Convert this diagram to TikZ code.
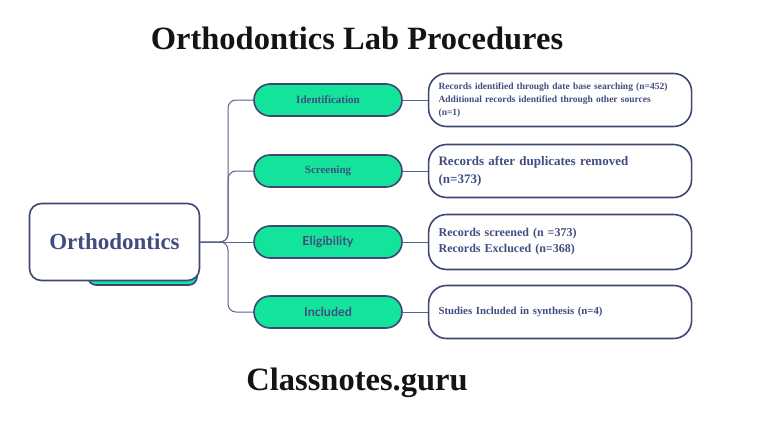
\documentclass[tikz,border=0pt]{standalone}
\usepackage{fontspec}
\setmainfont{Liberation Serif}
\newfontfamily\lato{Lato}
\usetikzlibrary{positioning}
\definecolor{navy}{RGB}{60,71,120}
\definecolor{mint}{RGB}{20,228,155}
\definecolor{inkblue}{RGB}{66,76,128}

\begin{document}
\begin{tikzpicture}[x=1pt, y=-1pt,
  root/.style={draw=navy, fill=white, line width=1.6pt, rounded corners=12pt,
               minimum width=170pt, minimum height=77pt, text=inkblue,
               font=\fontsize{23}{27}\selectfont\bfseries},
  backing/.style={draw=navy, fill=mint, line width=1.6pt, rounded corners=8pt,
                  minimum width=109pt, minimum height=30pt},
  stage/.style={draw=navy, fill=mint, line width=1.6pt, rounded corners=16pt,
                minimum width=148pt, minimum height=32pt, text=inkblue,
                font=\fontsize{11}{13}\selectfont\bfseries},
  sans/.style={font=\lato\fontsize{12.5}{14}\selectfont\bfseries},
  detail/.style={draw=navy, fill=white, line width=1.6pt, rounded corners=18pt,
                 minimum width=263pt, minimum height=53pt, inner xsep=10pt,
                 text width=243pt, align=left, text=inkblue},
  small/.style={font=\fontsize{9.5}{13}\selectfont\bfseries},
  large/.style={font=\fontsize{13}{18}\selectfont\bfseries},
  conn/.style={draw=navy!85, line width=1pt},
  heading/.style={font=\fontsize{32.5}{38}\selectfont\bfseries, text=black!92},
]

\useasboundingbox (0,0) rectangle (768,434);

% --- Title ---
\node[heading] (title) at (357,38) {Orthodontics Lab Procedures};

% --- Root ---
\node[backing] (back) at (142.5,270) {};
\node[root] (ortho) at (114.5,242) {Orthodontics};

% --- Stages ---
\node[stage] (s1) at (328,100) {Identification};
\node[stage, below=37.4pt of s1] (s2) {Screening};
\node[stage, below=37.4pt of s2, sans] (s3) {Eligibility};
\node[stage, below=36.4pt of s3, sans] (s4) {Included};

% --- Details ---
\node[detail, small, right=25pt of s1] (d1)
  {Records identified through date base searching (n=452)\\
   Additional records identified through other sources\\
   (n=1)};
\node[detail, large, right=25pt of s2] (d2)
  {Records after duplicates removed\\(n=373)};
\node[detail, right=25pt of s3, minimum height=55pt,
      font=\fontsize{12}{16}\selectfont\bfseries] (d3)
  {Records screened (n =373)\\Records Excluced (n=368)};
\node[detail, right=25pt of s4, font=\fontsize{10.8}{13}\selectfont\bfseries] (d4)
  {Studies Included in synthesis (n=4)\\[6pt]};

% --- Connectors ---
\coordinate (hub) at (228,242);
\foreach \s in {s1,s2,s4}
  \draw[conn, rounded corners=8pt] (ortho.east) -- (hub) |- (\s.west);
\draw[conn] (ortho.east) -- (s3.west);
\foreach \i in {1,...,4}
  \draw[conn] (s\i.east) -- (d\i.west);

% --- Footer ---
\node[heading] (site) at (357,383) {Classnotes.guru};

\end{tikzpicture}
\end{document}
